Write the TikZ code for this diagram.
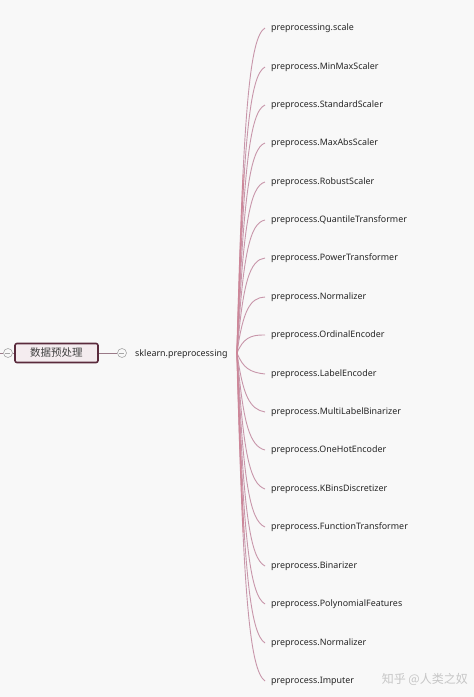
\documentclass[tikz,border=0pt]{standalone}
\usepackage{fontspec}
\setmainfont{Noto Sans}
\newfontfamily\cjk{Noto Sans CJK SC}
\definecolor{bgc}{HTML}{F8F8F8}
\definecolor{rootfill}{HTML}{F4ECEF}
\definecolor{rootdraw}{HTML}{5A2A3C}
\definecolor{branchc}{HTML}{C896AA}
\definecolor{linkc}{HTML}{9A7A88}
\tikzset{
  leaf/.style={anchor=west, inner sep=0pt, font=\fontsize{8.9}{10}\selectfont, text=black!85},
  rootbox/.style={draw=rootdraw, fill=rootfill, line width=1.6pt, rounded corners=2pt, minimum width=83pt, minimum height=19pt, font=\cjk\fontsize{10.5}{12}\selectfont, text=black!75},
  fold/.style={circle, draw=gray!70, fill=bgc, minimum size=9pt, inner sep=0pt, line width=0.6pt},
  twig/.style={draw=branchc, line width=0.9pt},
  trunk/.style={draw=branchc!80!red, line width=1.6pt, opacity=0.5},
}
\begin{document}
\begin{tikzpicture}[x=1pt,y=-1pt]
\useasboundingbox (0,0) rectangle (474,697);
\fill[bgc] (0,0) rectangle (474,697);
\coordinate (edge) at (0,353);
\node[rootbox] (root) at (56.5,353) {数据预处理};
\node[fold] (f1) at (8,353) {};
\draw[gray!70, line width=0.6pt] (f1.west) ++(2.2,0) -- ++(4.6,0);
\node[fold] (f2) at (122,353) {};
\draw[gray!70, line width=0.6pt] (f2.west) ++(2.2,0) -- ++(4.6,0);
\draw[linkc, line width=0.7pt] (edge) -- (f1.west);
\draw[linkc, line width=0.7pt] (f1.east) -- (root.west);
\draw[linkc, line width=0.7pt] (root.east) -- (f2.west);
\node[leaf] (sk) at (135,354) {sklearn.preprocessing};
\coordinate (br) at (237,353);
\foreach \i/\y/\t in {
 1/27/preprocessing.scale,
 2/66/preprocess.MinMaxScaler,
 3/104/preprocess.StandardScaler,
 4/142/preprocess.MaxAbsScaler,
 5/181/preprocess.RobustScaler,
 6/219/preprocess.QuantileTransformer,
 7/257/preprocess.PowerTransformer,
 8/296/preprocess.Normalizer,
 9/334/preprocess.OrdinalEncoder,
 10/373/preprocess.LabelEncoder,
 11/411/preprocess.MultiLabelBinarizer,
 12/449/preprocess.OneHotEncoder,
 13/488/preprocess.KBinsDiscretizer,
 14/526/preprocess.FunctionTransformer,
 15/565/preprocess.Binarizer,
 16/603/preprocess.PolynomialFeatures,
 17/642/preprocess.Normalizer,
 18/680/preprocess.Imputer}{
  \node[leaf] (l\i) at (271,\y+1) {\t};
  \pgfmathsetmacro{\cy}{353+0.75*(\y-353)}
  \pgfmathsetmacro{\ey}{\y+0.03*(353-\y)}
  \draw[twig] (br) .. controls (243,\cy) and (250,\ey) .. ([xshift=-6pt]l\i.west);
}
\foreach \y in {27,680}{
  \pgfmathsetmacro{\ay}{353+0.3*(\y-353)}
  \pgfmathsetmacro{\by}{353+0.45*(\y-353)}
  \pgfmathsetmacro{\my}{353+0.55*(\y-353)}
  \draw[trunk] (br) .. controls (240,\ay) and (242,\by) .. (243.5,\my);
}
\node[anchor=east, inner sep=0pt, font=\cjk\fontsize{12}{14}\selectfont, text=gray!45] (wm) at (468,679) {知乎 @人类之奴};
\end{tikzpicture}
\end{document}
